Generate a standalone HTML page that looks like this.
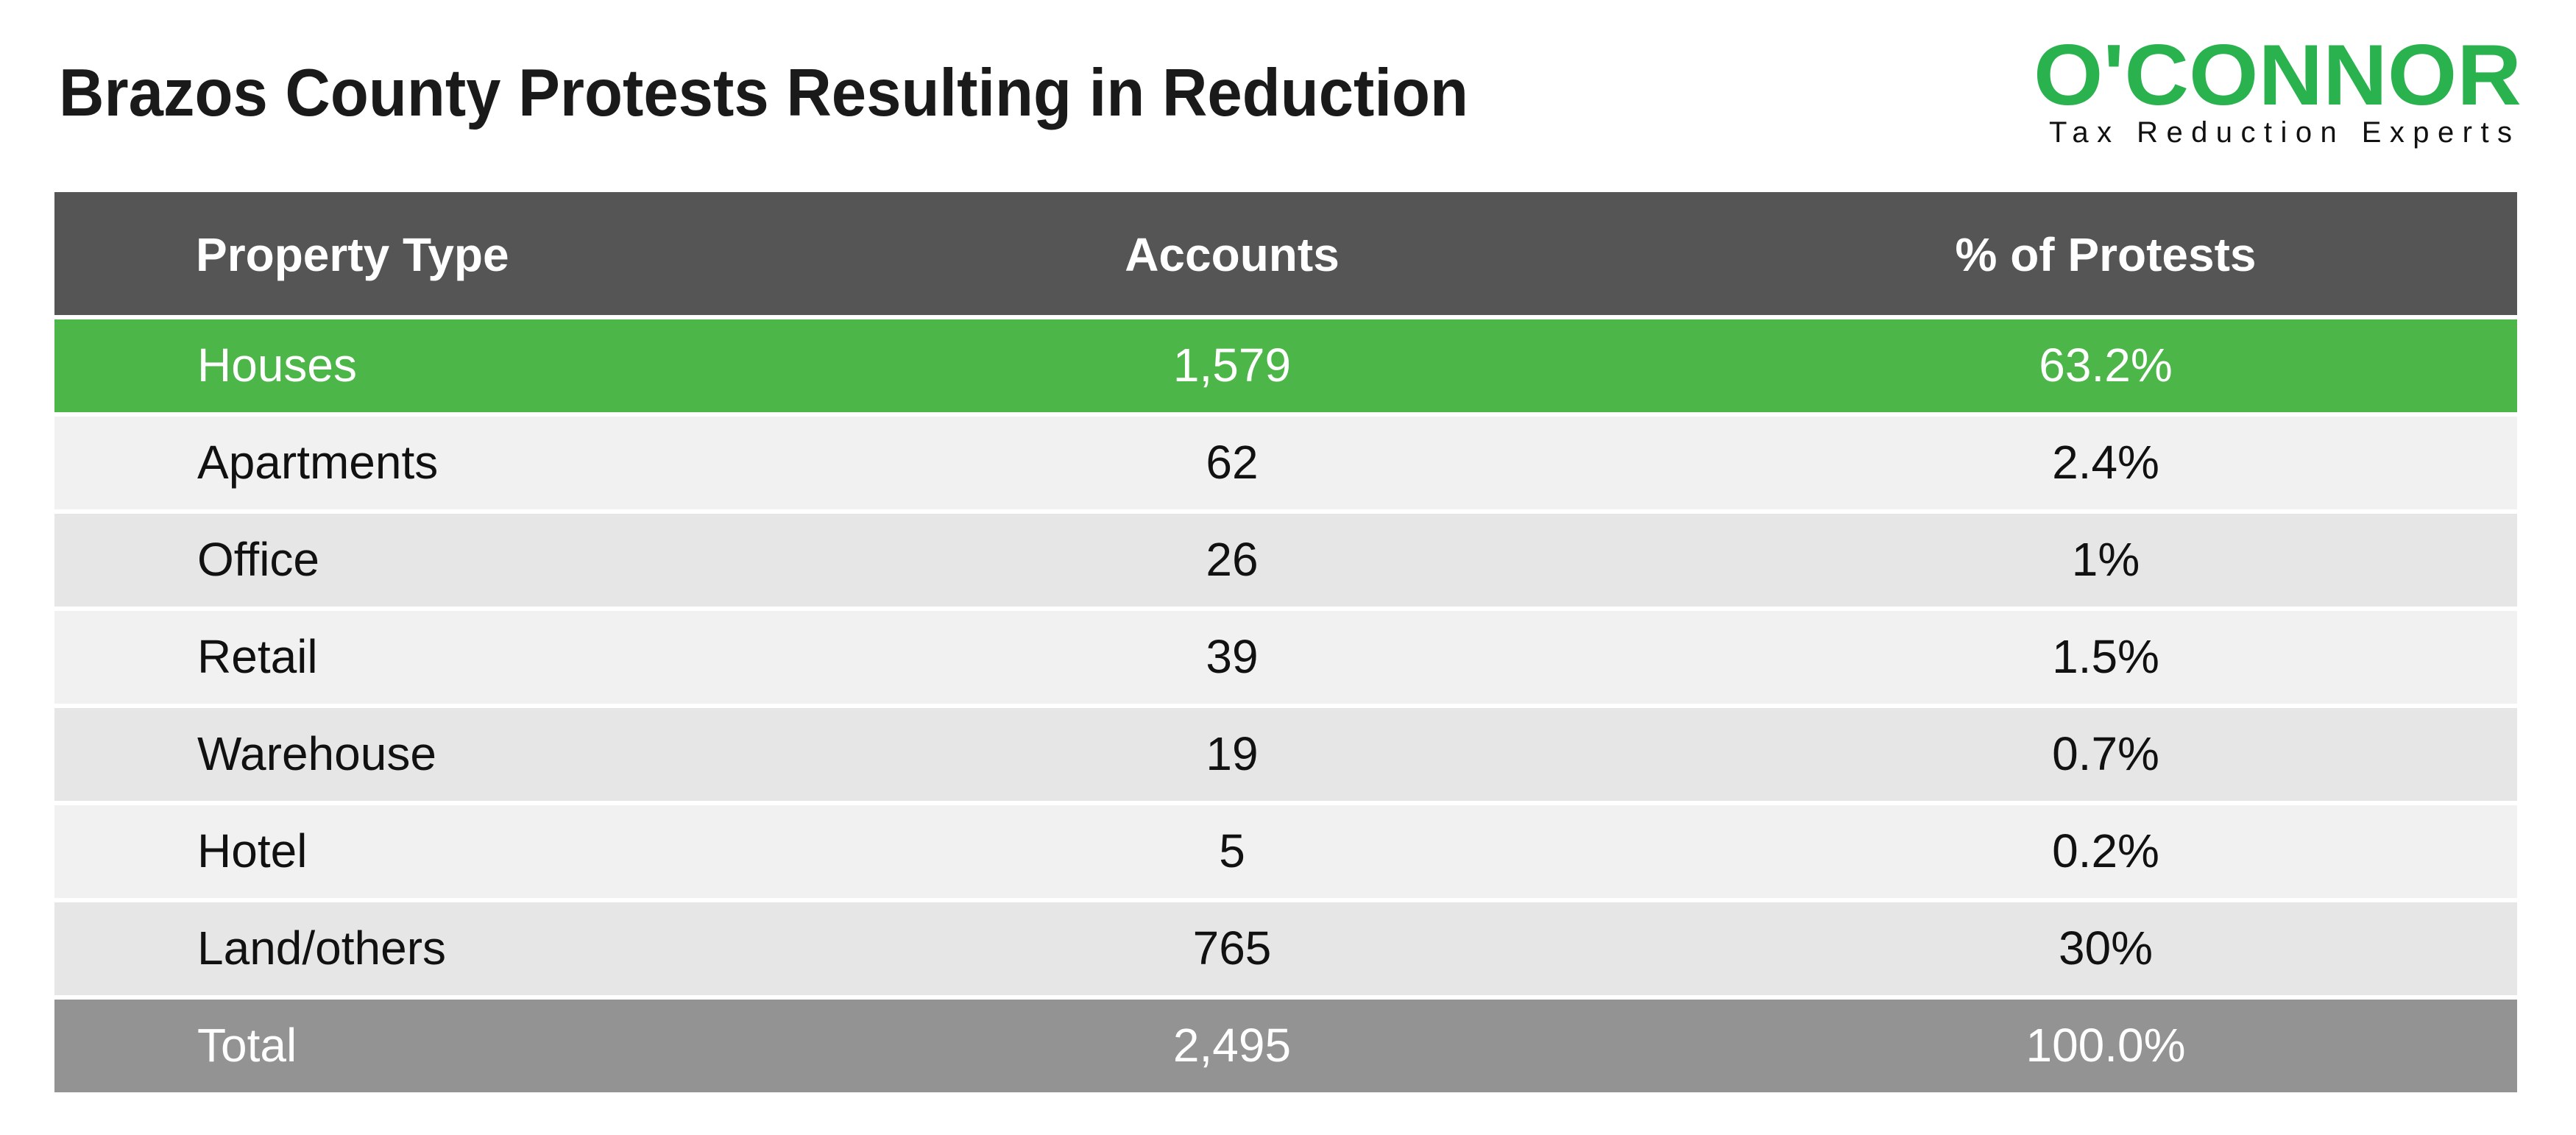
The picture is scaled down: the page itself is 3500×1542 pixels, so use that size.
<!DOCTYPE html>
<html><head><meta charset="utf-8"><style>html,body{margin:0;padding:0;background:#fff}svg{display:block}</style></head>
<body>
<svg width="3500" height="1542" viewBox="0 0 3500 1542" xmlns="http://www.w3.org/2000/svg" font-family="'Liberation Sans', Arial, sans-serif">
<rect width="3500" height="1542" fill="#fff"/>
<text x="80" y="157" font-size="91" font-weight="bold" fill="#1a1a1a" textLength="1915" lengthAdjust="spacingAndGlyphs">Brazos County Protests Resulting in Reduction</text>
<text x="2763" y="142" font-size="117" font-weight="bold" fill="#2ab24f" textLength="663" lengthAdjust="spacingAndGlyphs">O'CONNOR</text>
<text x="2784" y="193" font-size="40" fill="#111" textLength="629" lengthAdjust="spacing">Tax Reduction Experts</text>
<rect x="74" y="261" width="3346" height="167" fill="#555555"/>
<g font-size="64" font-weight="bold" fill="#fff">
<text x="266" y="368">Property Type</text>
<text x="1674" y="368" text-anchor="middle">Accounts</text>
<text x="2861" y="368" text-anchor="middle">% of Protests</text>
</g>
<rect x="74" y="434" width="3346" height="126" fill="#4cb648"/>
<rect x="74" y="566" width="3346" height="126" fill="#f1f1f1"/>
<rect x="74" y="698" width="3346" height="126" fill="#e6e6e6"/>
<rect x="74" y="830" width="3346" height="126" fill="#f1f1f1"/>
<rect x="74" y="962" width="3346" height="126" fill="#e6e6e6"/>
<rect x="74" y="1094" width="3346" height="126" fill="#f1f1f1"/>
<rect x="74" y="1226" width="3346" height="126" fill="#e6e6e6"/>
<rect x="74" y="1358" width="3346" height="126" fill="#939393"/>
<g font-size="64" fill="#111">
<g fill="#fff"><text x="268" y="518">Houses</text><text x="1674" y="518" text-anchor="middle">1,579</text><text x="2861" y="518" text-anchor="middle">63.2%</text></g>
<text x="268" y="650">Apartments</text><text x="1674" y="650" text-anchor="middle">62</text><text x="2861" y="650" text-anchor="middle">2.4%</text>
<text x="268" y="782">Office</text><text x="1674" y="782" text-anchor="middle">26</text><text x="2861" y="782" text-anchor="middle">1%</text>
<text x="268" y="914">Retail</text><text x="1674" y="914" text-anchor="middle">39</text><text x="2861" y="914" text-anchor="middle">1.5%</text>
<text x="268" y="1046">Warehouse</text><text x="1674" y="1046" text-anchor="middle">19</text><text x="2861" y="1046" text-anchor="middle">0.7%</text>
<text x="268" y="1178">Hotel</text><text x="1674" y="1178" text-anchor="middle">5</text><text x="2861" y="1178" text-anchor="middle">0.2%</text>
<text x="268" y="1310">Land/others</text><text x="1674" y="1310" text-anchor="middle">765</text><text x="2861" y="1310" text-anchor="middle">30%</text>
<g fill="#fff"><text x="268" y="1442">Total</text><text x="1674" y="1442" text-anchor="middle">2,495</text><text x="2861" y="1442" text-anchor="middle">100.0%</text></g>
</g>
</svg>
</body></html>
